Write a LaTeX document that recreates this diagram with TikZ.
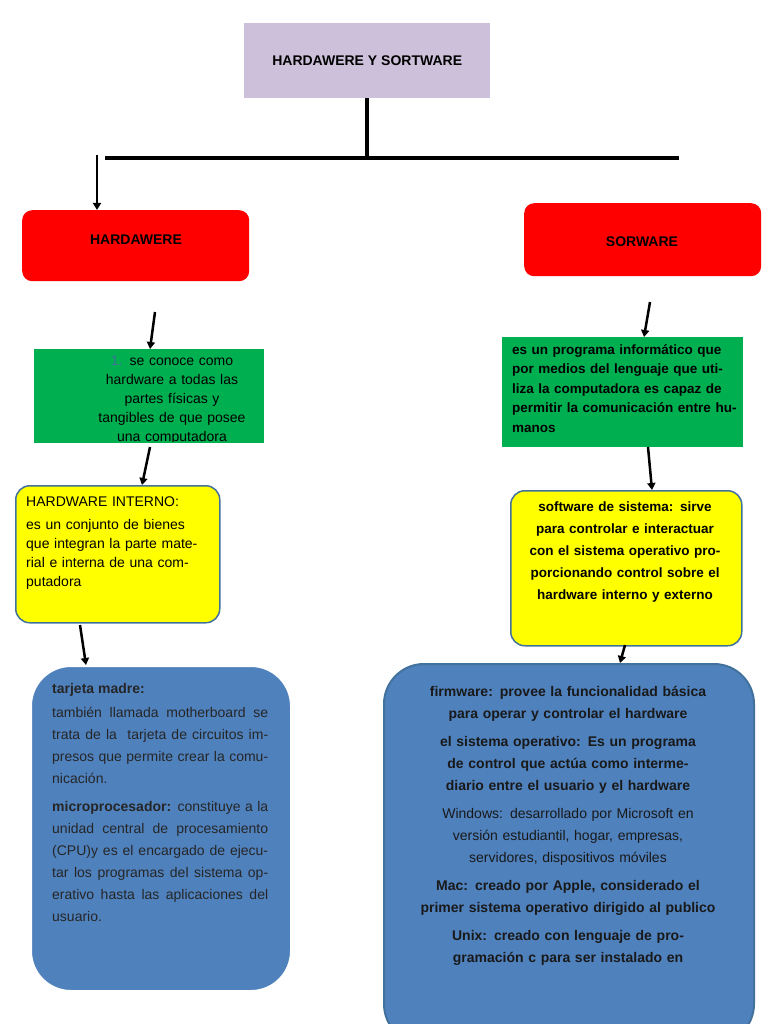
\documentclass[tikz,border=0pt]{standalone}
\usepackage{fontspec}
\setmainfont{Liberation Sans}
\usetikzlibrary{arrows.meta}
\definecolor{lav}{HTML}{CCC0DA}
\definecolor{myred}{HTML}{FF0000}
\definecolor{mygreen}{HTML}{00B050}
\definecolor{myyel}{HTML}{FFFF00}
\definecolor{myblue}{HTML}{4F81BD}
\definecolor{bdr}{HTML}{41719C}
\begin{document}
\begin{tikzpicture}[x=1pt,y=-1pt,
  arr/.style={line width=2.5pt,-{Triangle[length=7pt,width=8pt]}},
  txt/.style={font=\fontsize{14}{19}\selectfont,inner sep=0pt}]
\useasboundingbox (0,0) rectangle (768,1024);
% title
\node[fill=lav,minimum width=246pt,minimum height=75pt,anchor=north west,font=\fontsize{14}{17}\selectfont\bfseries] (t) at (244,23) {HARDAWERE Y SORTWARE};
\coordinate (tj) at (367,158);
\coordinate (hl) at (105,158);
\coordinate (hr) at (679,158);
\draw[line width=4pt] (t.south -| tj) -- (tj);
\draw[line width=4pt] (hl) -- (hr);
% red
\node[fill=myred,rounded corners=10pt,minimum width=227pt,minimum height=71pt,anchor=north west] (hw) at (22,210) {};
\node[txt,font=\fontsize{14}{17}\selectfont\bfseries] (hwt) at (136,240) {HARDAWERE};
\node[fill=myred,rounded corners=10pt,minimum width=237pt,minimum height=73pt,anchor=north west] (sw) at (524,203) {};
\node[txt,font=\fontsize{14}{17}\selectfont\bfseries] (swt) at (642,242) {SORWARE};
\coordinate (a0) at (97,155);
\draw[arr] (a0) -- (hw.north -| a0);
% green
\node[fill=mygreen,minimum width=230pt,minimum height=94pt,anchor=north west] (g1) at (34,349) {};
\begin{scope}
\clip (34,349) rectangle (264,441);
\node[txt,text width=200pt,align=center,anchor=north] (g1t) at (172,356) {\textcolor{bdr}{1.}\enspace se conoce como\\ hardware a todas las\\ partes físicas y\\ tangibles de que posee\\ una computadora};
\end{scope}
\node[fill=mygreen,minimum width=241pt,minimum height=110pt,anchor=north west] (g2) at (502,337) {};
\node[txt,font=\fontsize{13.5}{19.5}\selectfont\bfseries,text width=225pt,align=left,anchor=north west] (g2t) at (512,344) {es un programa informático que por medios del lenguaje que utiliza la computadora es capaz de permitir la comunicación entre humanos};
\coordinate (a1s) at (155,312); \coordinate (a1e) at (150,348);
\draw[arr] (a1s) -- (g1.north -| a1e);
\coordinate (a2s) at (650,302); \coordinate (a2e) at (644,336);
\draw[arr] (a2s) -- (g2.north -| a2e);
% yellow
\node[fill=myyel,draw=bdr,line width=1.5pt,rounded corners=14pt,minimum width=204pt,minimum height=137pt,anchor=north west] (y1) at (15,485) {};
\node[txt,text width=185pt,align=left,anchor=north west] (y1t) at (26,497) {HARDWARE INTERNO:\\[4pt] es un conjunto de bienes que integran la parte material e interna de una computadora};
\node[fill=myyel,draw=bdr,line width=1.5pt,rounded corners=14pt,minimum width=231pt,minimum height=155pt,anchor=north west] (y2) at (510,490) {};
\node[txt,font=\fontsize{13.5}{22}\selectfont\bfseries,text width=220pt,align=center,anchor=north] (y2t) at (625,502) {software de sistema: sirve para controlar e interactuar con el sistema operativo proporcionando control sobre el hardware interno y externo};
\coordinate (a3s) at (150,447); \coordinate (a3e) at (142,485);
\draw[arr] (a3s) -- (y1.north -| a3e);
\coordinate (a4s) at (648,447); \coordinate (a4e) at (652,490);
\draw[arr] (a4s) -- (y2.north -| a4e);
% blue
\node[fill=myblue,draw=white,line width=2pt,rounded corners=40pt,minimum width=260pt,minimum height=325pt,anchor=north west] (b1) at (30,665) {};
\node[txt,font=\fontsize{14}{22}\selectfont,text width=216pt,align=justify,anchor=north west,color=black!85] (b1t) at (52,683) {\textbf{tarjeta madre:}\\[2pt]
también llamada motherboard se trata de la \ tarjeta de circuitos impresos que permite crear la comunicación.\\[6pt]
\textbf{microprocesador:} constituye a la unidad central de procesamiento (CPU)y es el encargado de ejecutar los programas del sistema operativo hasta las aplicaciones del usuario.};
\node[fill=myblue,draw=bdr,line width=2pt,rounded corners=40pt,minimum width=370pt,minimum height=380pt,anchor=north west] (b2) at (383,663) {};
\node[txt,font=\fontsize{14}{22}\selectfont,text width=320pt,align=center,anchor=north,color=black!90] (b2t) at (568,686) {\textbf{firmware: provee la funcionalidad básica para operar y controlar el hardware}\\[6pt]
\textbf{el sistema operativo: Es un programa de control que actúa como intermediario entre el usuario y el hardware}\\[6pt]
Windows: desarrollado por Microsoft en\\ versión estudiantil, hogar, empresas,\\ servidores, dispositivos móviles\\[6pt]
\textbf{Mac: creado por Apple, considerado el primer sistema operativo dirigido al publico}\\[6pt]
\textbf{Unix: creado con lenguaje de programación c para ser instalado en}};
\coordinate (a5s) at (80,625); \coordinate (a5e) at (86,662);
\draw[arr] (a5s) -- (b1.north -| a5e);
\coordinate (a6s) at (625,645); \coordinate (a6e) at (620,663);
\draw[arr] (a6s) -- (b2.north -| a6e);
\end{tikzpicture}
\end{document}
